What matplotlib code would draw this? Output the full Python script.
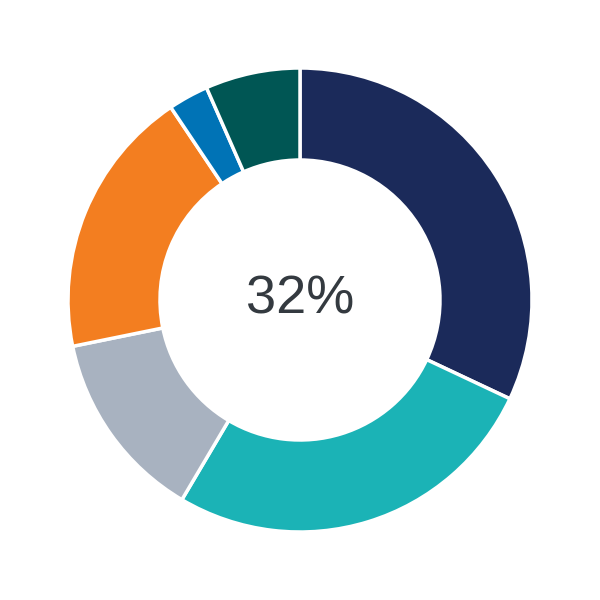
import matplotlib
matplotlib.use("Agg")
import matplotlib.pyplot as plt

# %% Data (clockwise from 12 o'clock)
labels = ["Navy", "Teal", "Gray", "Orange", "Blue", "Dark teal"]
shares = [32.0, 26.5, 13.3, 18.8, 2.8, 6.6]
colors = ["#1b2a5a", "#1bb3b6", "#a8b2c0", "#f37e20", "#0073b6", "#005654"]
center_text = "32%"

# %% Plot
fig = plt.figure(figsize=(6, 6), dpi=100)
ax = fig.add_axes([0, 0, 1, 1])

R = 1.0
lim = 300 / 232  # outer radius ~232 px in a 600 px figure
ax.pie(shares, colors=colors, radius=R, startangle=90, counterclock=False,
       wedgeprops=dict(width=92 / 232, edgecolor="white", linewidth=2.5))

ax.text(0, 0, center_text, ha="center", va="center", fontsize=39,
        color="#343a40", family=["Liberation Sans", "DejaVu Sans"])

ax.set_xlim(-lim, lim)
ax.set_ylim(-lim, lim)
ax.set_aspect("equal")
ax.axis("off")

fig.savefig("out.png", dpi=100, facecolor="white")
